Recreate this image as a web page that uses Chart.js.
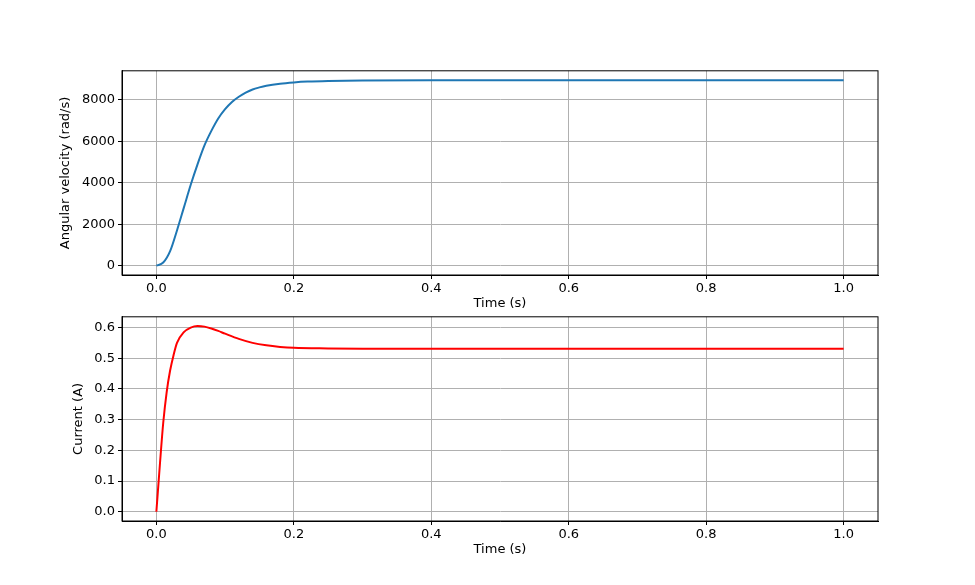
<!DOCTYPE html>
<html><head><meta charset="utf-8">
<script src="https://cdn.jsdelivr.net/npm/chart.js@4"></script>
<style>body{margin:0;background:#fff;width:975px;height:585px;position:relative;overflow:hidden}
.c{position:absolute;left:0;width:975px}</style></head>
<body>
<div class="c" style="top:60px;height:255px"><canvas id="a"></canvas></div>
<div class="c" style="top:306px;height:255px"><canvas id="b"></canvas></div>
<script>
const timeW=[0,0.01,0.02,0.03,0.04,0.05,0.06,0.07,0.08,0.09,0.10,0.11,0.12,0.13,0.14,0.15,0.16,0.18,0.20,0.22,0.25,0.30,0.40,0.60,0.80,1.0];
const omega=[0,150,700,1700,2800,3900,4900,5800,6500,7100,7550,7900,8150,8350,8500,8600,8680,8780,8840,8880,8910,8930,8940,8940,8940,8940];
const timeI=[0,0.005,0.01,0.015,0.02,0.025,0.03,0.04,0.05,0.06,0.07,0.08,0.09,0.10,0.12,0.14,0.16,0.18,0.20,0.25,0.30,0.40,0.60,0.80,1.0];
const current=[0,0.15,0.29,0.39,0.46,0.51,0.55,0.585,0.60,0.605,0.603,0.597,0.589,0.58,0.563,0.55,0.542,0.537,0.534,0.532,0.531,0.531,0.531,0.531,0.531];
const xTicks=[0,0.2,0.4,0.6,0.8,1.0];
const wTicks=[0,2000,4000,6000,8000];
const iTicks=[0,0.1,0.2,0.3,0.4,0.5,0.6];
Chart.defaults.font.family='DejaVu Sans';Chart.defaults.font.size=13;Chart.defaults.color='#000';
const box={id:'box',afterDraw(c){const a=c.chartArea,x=c.ctx;x.save();x.strokeStyle='#000';x.lineWidth=1;x.strokeRect(a.left,a.top,a.right-a.left,a.bottom-a.top);x.restore();}};
function mk(id,xs,ys,color,ymin,ymax,yt,ytitle,fmt,padL){
 new Chart(document.getElementById(id),{type:'scatter',
  data:{datasets:[{data:xs.map((t,i)=>({x:t,y:ys[i]})),showLine:true,borderColor:color,borderWidth:2,pointRadius:0,tension:0.4,cubicInterpolationMode:'monotone'}]},
  options:{responsive:true,maintainAspectRatio:false,animation:false,
   layout:{padding:{top:10,right:97,left:padL,bottom:0}},
   plugins:{legend:{display:false},tooltip:{enabled:false}},
   scales:{
    x:{type:'linear',min:-0.05,max:1.05,afterBuildTicks:s=>{s.ticks=xTicks.map(v=>({value:v}))},
     ticks:{callback:v=>v.toFixed(1),maxRotation:0,padding:2},
     grid:{color:'#b0b0b0',tickLength:4,tickColor:'#000'},border:{color:'#000'},
     title:{display:true,text:'Time (s)',padding:{top:6}},afterFit:s=>{s.height=40}},
    y:{min:ymin,max:ymax,afterBuildTicks:s=>{s.ticks=yt.map(v=>({value:v}))},
     ticks:{callback:fmt,padding:3},
     grid:{color:'#b0b0b0',tickLength:4,tickColor:'#000'},border:{color:'#000'},
     title:{display:true,text:ytitle,padding:0},afterFit:s=>{s.width=122-padL}}}},
  plugins:[box]});
}
mk('a',timeW,omega,'#1f77b4',-450,9400,wTicks,'Angular velocity (rad/s)',v=>String(v),58);
mk('b',timeI,current,'#ff0000',-0.03,0.635,iTicks,'Current (A)',v=>v.toFixed(1),71);
</script></body></html>
